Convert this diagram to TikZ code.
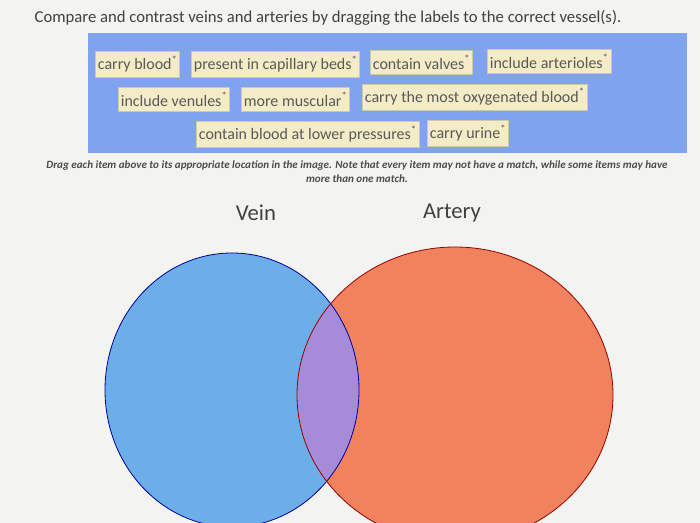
\documentclass[tikz,border=0pt]{standalone}
\usepackage{fontspec}
\setmainfont{Carlito}
\begin{document}
\begin{tikzpicture}[x=0.75pt,y=-0.75pt,
  lab/.style={fill=labfill,draw=labfill!85!black,line width=0.3pt,anchor=west,minimum height=18pt,inner xsep=2pt,text=black!65,font=\fontsize{12}{13}\selectfont}]
\definecolor{bg}{HTML}{F3F3F1}
\definecolor{panel}{HTML}{7FA3EC}
\definecolor{labfill}{HTML}{F3ECC6}
\definecolor{vein}{HTML}{6CAEE8}
\definecolor{artery}{HTML}{F0825E}
\definecolor{both}{HTML}{A68BD8}
\newcommand{\st}{\raisebox{0.9ex}{\fontsize{8}{8}\selectfont*}}
\useasboundingbox (0,0) rectangle (700,523);
\fill[bg] (0,0) rectangle (700,523);
\node[anchor=west,text=black!75,font=\fontsize{12.5}{14}\selectfont] (title) at (30,18) {Compare and contrast veins and arteries by dragging the labels to the correct vessel(s).};
\fill[panel] (88,33) rectangle (687,153);
\node[lab] (l1) at (95,64) {carry blood\st};
\node[lab] (l2) at (191,64) {present in capillary beds\st};
\node[lab] (l3) at (370,62) {contain valves\st};
\node[lab] (l4) at (487,61) {include arterioles\st};
\node[lab] (l5) at (118,99) {include venules\st};
\node[lab] (l6) at (241,99) {more muscular\st};
\node[lab] (l7) at (362,97) {carry the most oxygenated blood\st};
\node[lab] (l8) at (196,134) {contain blood at lower pressures\st};
\node[lab] (l9) at (427,133) {carry urine\st};
\node[font=\fontsize{8.3}{10.5}\selectfont\bfseries\itshape,text=black!70,align=center] (instr) at (357,172) {Drag each item above to its appropriate location in the image. Note that every item may not have a match, while some items may have\\ more than one match.};
\node[font=\fontsize{17}{18}\selectfont,text=black!75] (vt) at (256,213) {Vein};
\node[font=\fontsize{17}{18}\selectfont,text=black!75] (at) at (452,213) {Artery};
\begin{scope}
\clip (0,0) rectangle (700,523);
\fill[vein] (232,390) ellipse [x radius=127, y radius=137];
\fill[artery] (455,395) ellipse [x radius=158, y radius=148];
\begin{scope}
\clip (232,390) ellipse [x radius=127, y radius=137];
\fill[both] (455,395) ellipse [x radius=158, y radius=148];
\end{scope}
\draw[blue!60!black,line width=0.6pt] (232,390) ellipse [x radius=127, y radius=137];
\draw[red!60!black,line width=0.6pt] (455,395) ellipse [x radius=158, y radius=148];
\end{scope}
\end{tikzpicture}
\end{document}
